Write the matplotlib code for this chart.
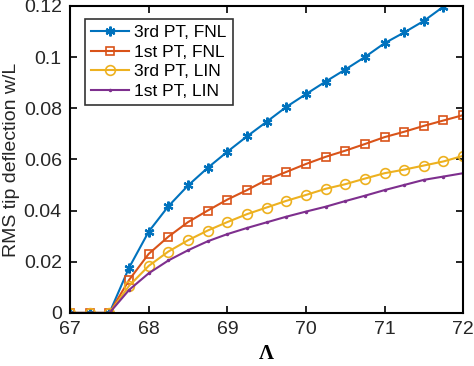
import numpy as np
import matplotlib
matplotlib.use('Agg')
import matplotlib.pyplot as plt

plt.rcParams['font.family'] = ['Liberation Sans', 'DejaVu Sans']

# ── Data ──────────────────────────────────────────────────────────────────────
lam = [67.0, 67.25, 67.5, 67.75, 68.0, 68.25, 68.5, 68.75, 69.0, 69.25, 69.5,
       69.75, 70.0, 70.25, 70.5, 70.75, 71.0, 71.25, 71.5, 71.75, 72.0]

pt3_fnl = [0, 0, 0, 0.0177, 0.0318, 0.0417, 0.0498, 0.0567, 0.063, 0.069, 0.0747,
           0.0805, 0.0855, 0.0904, 0.0951, 0.100, 0.1054, 0.1096, 0.1141, 0.1197, 0.1245]
pt1_fnl = [0, 0, 0, 0.0129, 0.0231, 0.0298, 0.0355, 0.040, 0.0443, 0.048, 0.052,
           0.0551, 0.0582, 0.061, 0.0634, 0.066, 0.0687, 0.0708, 0.0731, 0.0752, 0.0773]
pt3_lin = [0, 0, 0, 0.0106, 0.0184, 0.024, 0.0284, 0.0322, 0.0355, 0.0386, 0.0412,
           0.0438, 0.0461, 0.0485, 0.0503, 0.0525, 0.0546, 0.056, 0.0576, 0.0592, 0.0614]
pt1_lin = [0, 0, 0, 0.009, 0.0155, 0.0205, 0.0245, 0.028, 0.0308, 0.0332, 0.0354,
           0.0376, 0.0396, 0.0415, 0.0437, 0.0458, 0.048, 0.050, 0.052, 0.0533, 0.0546]

labels = ['3rd PT, FNL', '1st PT, FNL', '3rd PT, LIN', '1st PT, LIN']
colors = ['#0072BD', '#D95319', '#EDB120', '#7E2F8E']

yticks = [0, 0.02, 0.04, 0.06, 0.08, 0.1, 0.12]
yticklabels = ['0', '0.02', '0.04', '0.06', '0.08', '0.1', '0.12']
xticks = [67, 68, 69, 70, 71, 72]

# ── Plot ──────────────────────────────────────────────────────────────────────
fig = plt.figure(figsize=(4.74, 3.66), dpi=100)
ax = fig.add_axes([0.148, 0.145, 0.829, 0.839])

ax.plot(lam, pt3_fnl, color=colors[0], lw=1.5, marker=(6, 2, 0), ms=7, mew=1.6,
        label=labels[0])
ax.plot(lam, pt1_fnl, color=colors[1], lw=1.5, marker='s', ms=6, mfc='none',
        mew=1.2, label=labels[1])
ax.plot(lam, pt3_lin, color=colors[2], lw=1.5, marker='o', ms=7, mfc='none',
        mew=1.2, label=labels[2])
ax.plot(lam, pt1_lin, color=colors[3], lw=1.5, marker='.', ms=3,
        label=labels[3])

ax.set_xlim(67, 72)
ax.set_ylim(0, 0.12)
ax.set_xticks(xticks)
ax.set_yticks(yticks)
ax.set_yticklabels(yticklabels)
ax.tick_params(direction='in', length=5, width=1.2, labelsize=14, pad=6,
               top=True, right=True, labeltop=False, labelright=False,
               colors='black', labelcolor='#262626')
for sp in ax.spines.values():
    sp.set_linewidth(1.5)

ax.set_ylabel('RMS tip deflection w/L', fontsize=14, color='#262626', labelpad=3)
ax.set_xlabel('Λ', fontsize=15, fontweight='bold', family='Liberation Serif',
              labelpad=4)

leg = ax.legend(loc='upper left', fontsize=12.5, frameon=True, fancybox=False,
                handlelength=2.2, handletextpad=0.3, labelspacing=0.25,
                borderpad=0.35, bbox_to_anchor=(0.015, 0.985))
leg.get_frame().set_edgecolor('black')
leg.get_frame().set_linewidth(1.2)

plt.savefig('out.png', dpi=100)
